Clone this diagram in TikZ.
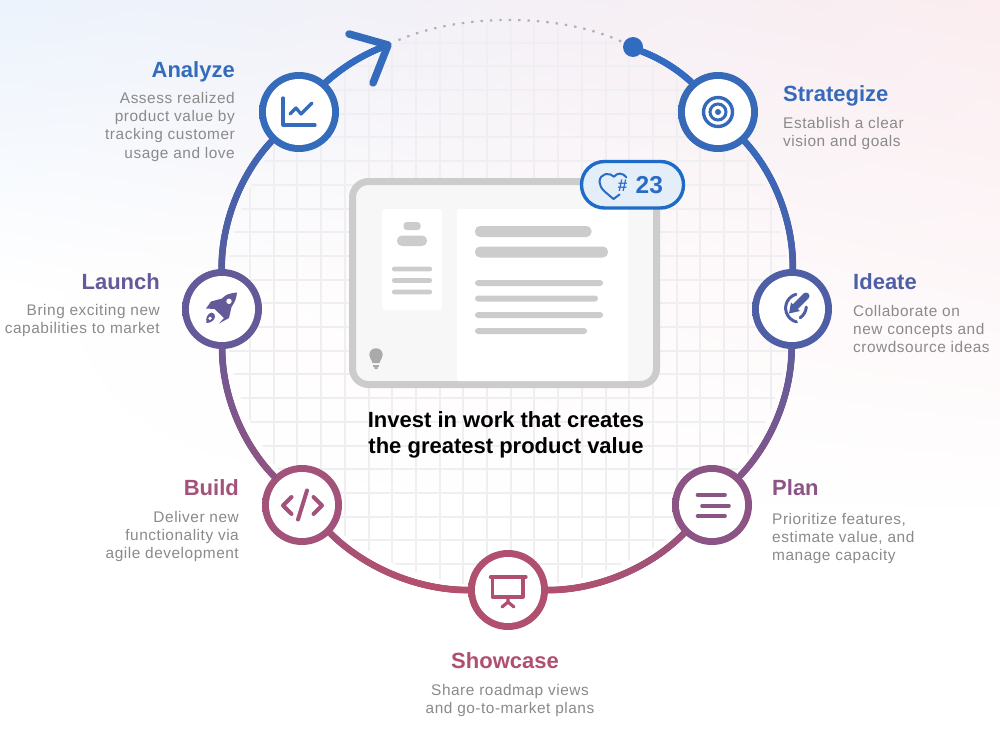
\documentclass[tikz,border=0pt]{standalone}
\usepackage{fontspec}
\setmainfont{Liberation Sans}
\newfontfamily\bodyfont[LetterSpace=3.5]{Liberation Sans}
\usetikzlibrary{decorations.markings}
\definecolor{stopA}{RGB}{50,108,192}
\definecolor{stopB}{RGB}{78,95,166}
\definecolor{stopC}{RGB}{140,84,133}
\definecolor{stopD}{RGB}{178,80,110}
\definecolor{bgleft}{RGB}{236,243,252}
\definecolor{bgmid}{RGB}{247,245,249}
\definecolor{bgright}{RGB}{251,237,240}
\definecolor{gridc}{RGB}{239,239,241}
\definecolor{cardline}{RGB}{204,204,204}
\definecolor{cardfill}{RGB}{247,247,247}
\definecolor{barc}{RGB}{204,204,204}
\definecolor{badgeline}{RGB}{30,107,200}
\definecolor{badgefill}{RGB}{228,238,249}
\definecolor{badgetext}{RGB}{42,107,196}
\definecolor{bodygrey}{RGB}{138,138,138}
\definecolor{dotgrey}{RGB}{176,176,176}
\definecolor{bulbgrey}{RGB}{170,170,170}
\definecolor{cAnalyze}{RGB}{52,107,186}
\definecolor{cStrategize}{RGB}{54,106,184}
\definecolor{cIdeate}{RGB}{78,95,166}
\definecolor{cLaunch}{RGB}{100,90,154}
\definecolor{cPlan}{RGB}{140,84,133}
\definecolor{cBuild}{RGB}{163,82,122}
\definecolor{cShowcase}{RGB}{176,80,110}
\newcommand\ringmix[2]{%
  \pgfmathsetmacro\tval{#2-0.1*(#1-508)}%
  \ifdim\tval pt<250pt
    \pgfmathsetmacro\pct{max(0,(\tval-90)/160*100)}\colorlet{ringc}{stopB!\pct!stopA}%
  \else\ifdim\tval pt<485pt
    \pgfmathsetmacro\pct{(\tval-250)/235*100}\colorlet{ringc}{stopC!\pct!stopB}%
  \else
    \pgfmathsetmacro\pct{min(100,(\tval-485)/105*100)}\colorlet{ringc}{stopD!\pct!stopC}%
  \fi\fi}
\tikzset{
  ringlink/.style={postaction={decorate,decoration={markings,
    mark=between positions 0 and 1 step 1pt with {%
      \pgfgettransformentries{\ma}{\mb}{\mc}{\md}{\mX}{\mY}%
      \pgfmathsetmacro\ypx{-\mY}%
      \ringmix{\mX}{\ypx}%
      \pgftransformresetnontranslations
      \fill[ringc] (0,0) circle (3.4pt);}}}},
  bendarc/.style={looseness=0.85},
  stage/.style={circle,minimum size=80pt,inner sep=0pt,top color=#1,bottom color=#1},
  title/.style={font=\fontsize{22}{26}\selectfont\bfseries,inner sep=0pt},
  bodytext/.style={font=\bodyfont\fontsize{15.4}{18.3}\selectfont,text=bodygrey,inner sep=0pt},
  icon/.style={line width=3.2pt,line cap=round,line join=round},
  pill/.style={fill=barc,rounded corners=#1},
  arrowbarb/.style={draw=cAnalyze,line width=7.5pt,line cap=round,line join=round},
}
\begin{document}
\begin{tikzpicture}[x=1pt,y=-1pt]
\useasboundingbox (0,0) rectangle (1000,741);
\fill[white] (0,0) rectangle (1000,741);
% background wash
\foreach \yy in {0,4,...,520}{
  \pgfmathsetmacro\pl{max(0,100*(1-\yy/290))}
  \pgfmathsetmacro\pm{max(0,100*(1-\yy/360))}
  \pgfmathsetmacro\pr{max(0,100*(1-\yy/520))}
  \colorlet{wl}{bgleft!\pl!white}\colorlet{wm}{bgmid!\pm!white}\colorlet{wr}{bgright!\pr!white}
  \shade[left color=wl,middle color=wm,right color=wr,shading angle=90] (0,\yy) rectangle (1000,\yy+5);
}
% grid inside ring
\begin{scope}
  \clip (508,304.5) circle (283);
  \foreach \k in {-12,...,12}{
    \draw[gridc,line width=2pt] (510.7+\k*23.7,0) -- (510.7+\k*23.7,640);
  }
  \foreach \k in {-4,...,21}{
    \draw[gridc,line width=2pt] (200,113.7+\k*23.7) -- (820,113.7+\k*23.7);
  }
\end{scope}
% stage nodes
\node[stage=cStrategize] (strategize) at (718,112) {};
\node[stage=cIdeate] (ideate) at (792,309) {};
\node[stage=cPlan] (plan) at (712,505) {};
\node[stage=cShowcase] (showcase) at (508,590) {};
\node[stage=cBuild] (build) at (302,505) {};
\node[stage=cLaunch] (launch) at (222,309) {};
\node[stage=cAnalyze] (analyze) at (299,112) {};
\node[circle,fill=stopA,minimum size=20pt,inner sep=0pt] (startdot) at (633,47) {};
\coordinate (tip) at (388,45);
\coordinate (barbA) at (349,34);
\coordinate (barbB) at (373,83);
% ring connectors
\path[ringlink] (startdot) to[bend left=10.8,bendarc] (strategize);
\path[ringlink] (strategize) to[bend left=21.7,bendarc] (ideate);
\path[ringlink] (ideate) to[bend left=21.7,bendarc] (plan);
\path[ringlink] (plan) to[bend left=22.7,bendarc] (showcase);
\path[ringlink] (showcase) to[bend left=22.5,bendarc] (build);
\path[ringlink] (build) to[bend left=22,bendarc] (launch);
\path[ringlink] (launch) to[bend left=21.8,bendarc] (analyze);
\path[ringlink] (analyze) to[bend left=11,bendarc] (tip);
\draw[arrowbarb] (barbA) -- (tip) -- (barbB);
\draw[dotgrey,line width=2.2pt,dash pattern=on 2.4pt off 7pt,shorten >=5pt,shorten <=3pt] (startdot) to[bend right=25,looseness=0.8] (tip);
% white hearts of the stages
\foreach \n in {strategize,ideate,plan,showcase,build,launch,analyze}{
  \fill[white] (\n.center) circle (33);
}
% Analyze icon
\draw[icon,cAnalyze] (283,98) -- (283,125) -- (315,125);
\draw[icon,cAnalyze] (290,114) -- (296,108) -- (301,114) -- (312,103);
% Strategize icon
\draw[cStrategize,line width=3.4pt] (718,112) circle (14.5);
\draw[cStrategize,line width=3pt] (718,112) circle (8);
\fill[cStrategize] (718,112) circle (3);
% Ideate icon
\draw[icon,cIdeate,line width=3pt] (796,294.3) arc (-106:-256:14.3);
\draw[icon,cIdeate,line width=3pt] (806.3,307) arc (4:55:14.3);
\draw[cIdeate,line width=7pt,line cap=round] (796,306) -- (806,296);
\fill[cIdeate] (789,313.5) -- (791,302.5) -- (800,311) -- cycle;
% Launch icon
\fill[cLaunch] (237,292.5) .. controls (231,293) and (226,294) .. (222,298.5) -- (211,301.5) -- (206,308.5) -- (214.5,309) -- (224,318) -- (219,323.5) -- (229,318) -- (231.5,307) .. controls (235,302) and (236.5,298) .. (237,292.5) -- cycle;
\fill[white] (229,301.3) circle (2.7);
\fill[cLaunch] (206.5,323) .. controls (205.5,318) and (207,314) .. (211.5,312.5) .. controls (214,312.5) and (215.5,315) .. (215,317) .. controls (214,321) and (210,323) .. (206.5,323) -- cycle;
\fill[white] (210,318.3) circle (1.8);
% Plan icon
\draw[icon,cPlan,line width=3.6pt] (697.5,495) -- (725,495);
\draw[icon,cPlan,line width=3.6pt] (702,505.7) -- (729,505.7);
\draw[icon,cPlan,line width=3.6pt] (697.5,516) -- (725,516);
% Build icon
\draw[icon,cBuild,line width=4pt] (291.5,497) -- (283,505.5) -- (291.5,514);
\draw[icon,cBuild,line width=4pt] (307,490.5) -- (298,519.5);
\draw[icon,cBuild,line width=4pt] (313.5,497) -- (322,505.5) -- (313.5,514);
% Showcase icon
\draw[cShowcase,line width=3.2pt,line cap=round] (490.5,577) -- (526,577);
\draw[cShowcase,line width=3.2pt,line join=round] (492.5,577) -- (492.5,597) -- (523,597) -- (523,577);
\draw[icon,cShowcase,line width=3.2pt] (508,598) -- (508,602) (502,607) -- (508,602) -- (514,607);
% Card
\draw[cardline,fill=cardfill,line width=7pt,rounded corners=16pt] (352.5,181.5) rectangle (656.5,384.5);
\fill[white,rounded corners=2pt] (457,209) rectangle (628,381);
\fill[white,rounded corners=3pt] (382,209) rectangle (442,310);
\fill[pill=3pt] (403.5,222) rectangle (420.5,230);
\fill[pill=5pt] (397,235.5) rectangle (427,246);
\foreach \yy in {269,280.5,292} \fill[pill=2pt] (392,\yy-2.3) rectangle (432,\yy+2.3);
\fill[pill=5pt] (475,226) rectangle (591.5,237);
\fill[pill=5pt] (475,246.5) rectangle (608,257.5);
\fill[pill=3pt] (475,280) rectangle (603,286);
\fill[pill=3pt] (475,295.5) rectangle (598,301.5);
\fill[pill=3pt] (475,312) rectangle (603,318);
\fill[pill=3pt] (475,328) rectangle (587,334);
% Bulb
\fill[bulbgrey] (372.5,363) .. controls (371.5,359) and (369.3,358.5) .. (369.3,355) .. controls (369.3,346) and (382.7,346) .. (382.7,355) .. controls (382.7,358.5) and (380.5,359) .. (379.5,363) -- cycle;
\fill[bulbgrey] (372.8,364.5) rectangle (379.2,366.5);
\fill[bulbgrey,rounded corners=1pt] (374,367) rectangle (378,369);
% Badge
\draw[badgeline,fill=badgefill,line width=3.4pt,rounded corners=23pt] (581.5,161.5) rectangle (683.5,208);
\draw[badgetext,line width=2pt,line join=round,line cap=round] (626.5,177.5) .. controls (623,172.5) and (617,172.5) .. (614,176.7) .. controls (610,172) and (599.5,173) .. (599.5,182) .. controls (599.5,189) and (608,194) .. (613.5,199) .. controls (615.5,197.5) and (617.5,196) .. (619.5,194.5);
\node[font=\fontsize{17}{17}\selectfont\bfseries,text=badgetext,inner sep=0pt] (hash) at (622.7,185.5) {\#};
\node[font=\fontsize{24.5}{24}\selectfont\bfseries,text=badgetext,inner sep=0pt] (score) at (649.3,185) {23};
% Center text
\node[font=\fontsize{22}{26}\selectfont\bfseries,text=black,align=center,inner sep=0pt] (headline) at (506,435) {Invest in work that creates\\the greatest product value};
% Labels
\node[title,text=cAnalyze,anchor=base east] (tAnalyze) at (235,77.5) {Analyze};
\node[bodytext,anchor=north east,align=right] (bAnalyze) at (235,92) {Assess realized\\product value by\\tracking customer\\usage and love};
\node[title,text=cStrategize,anchor=base west] (tStrategize) at (783,101.5) {Strategize};
\node[bodytext,anchor=north west,align=left] (bStrategize) at (783,117) {Establish a clear\\vision and goals};
\node[title,text=cIdeate,anchor=base west] (tIdeate) at (853,289.5) {Ideate};
\node[bodytext,anchor=north west,align=left] (bIdeate) at (853,305) {Collaborate on\\new concepts and\\crowdsource ideas};
\node[title,text=cLaunch,anchor=base east] (tLaunch) at (160,289.5) {Launch};
\node[bodytext,anchor=north east,align=right] (bLaunch) at (160,304) {Bring exciting new\\capabilities to market};
\node[title,text=cPlan,anchor=base west] (tPlan) at (772,495.5) {Plan};
\node[bodytext,anchor=north west,align=left] (bPlan) at (772,513) {Prioritize features,\\estimate value, and\\manage capacity};
\node[title,text=cBuild,anchor=base east] (tBuild) at (239,495.5) {Build};
\node[bodytext,anchor=north east,align=right] (bBuild) at (239,511) {Deliver new\\functionality via\\agile development};
\node[title,text=cShowcase,anchor=base] (tShowcase) at (505,668.5) {Showcase};
\node[bodytext,align=center,anchor=north] (bShowcase) at (510,684) {Share roadmap views\\and go-to-market plans};
\end{tikzpicture}
\end{document}
